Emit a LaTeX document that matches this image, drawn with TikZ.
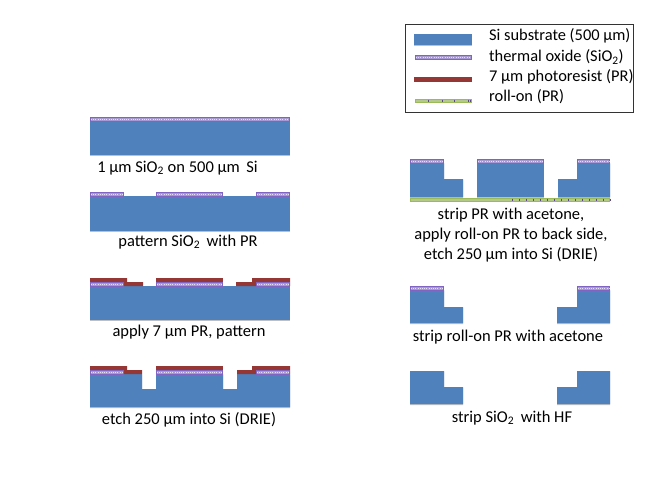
\documentclass[tikz,border=0pt]{standalone}
\usepackage{fontspec}
\setmainfont{Carlito}
\usetikzlibrary{shadows}
\definecolor{sicol}{HTML}{4F81BD}
\definecolor{oxcol}{HTML}{8064C2}
\definecolor{oxfill}{HTML}{A898D4}
\definecolor{prcol}{HTML}{953735}
\definecolor{rollcol}{HTML}{9BBB59}
\definecolor{rollfill}{HTML}{B4C88C}
\tikzset{
  softshadow/.style={drop shadow={shadow xshift=0pt,shadow yshift=-1pt,opacity=.25,fill=black}},
  sishape/.style={fill=sicol,draw=none,softshadow},
  prshape/.style={fill=prcol,draw=none},
  oxshape/.style={fill=oxfill,draw=oxcol,line width=.8pt},
  oxdots/.style={draw=white,opacity=.7,line width=1pt,dash pattern=on 1pt off 1.2pt},
  rollshape/.style={fill=rollfill,draw=rollcol,line width=1pt},
  rolltick/.style={draw=oxcol!70!black,line width=.5pt},
  caption/.style={font=\fontsize{16.5}{20}\selectfont,align=center,inner sep=0pt,text=black},
  legendtext/.style={font=\fontsize{16.4}{20}\selectfont,anchor=west,inner sep=0pt,text=black},
  legendbox/.style={draw=black!80,line width=1pt,fill=none}
}
\newcommand{\oxlayer}[3]{%
  \path[oxshape] (#1+.4,#3+.2) rectangle (#2-.4,#3+4);
  \path[oxdots] (#1+1,#3+2.1) -- (#2-1,#3+2.1);
}
\begin{document}
\begin{tikzpicture}[x=1pt,y=-1pt]
\useasboundingbox (0,0) rectangle (664,498);
\fill[white] (0,0) rectangle (664,498);

% step 1
\path[sishape] (90,121) rectangle (290,155);
\oxlayer{90}{290}{117}
\node[caption] (cap1) at (177.5,168) {1 µm SiO\textsubscript{2} on 500 µm\, Si};

% step 2
\path[sishape] (90,196) rectangle (290,231);
\oxlayer{90}{124}{192}
\oxlayer{156}{223}{192}
\oxlayer{256}{290}{192}
\node[caption] (cap2) at (188,242) {pattern SiO\textsubscript{2}\, with PR};

% step 3
\path[sishape] (90,286) rectangle (290,320);
\path[prshape] (90,278) -- (127,278) -- (127,282) -- (143,282) -- (143,286) -- (90,286) -- cycle;
\path[prshape] (156,278) rectangle (223,283);
\path[prshape] (290,278) -- (252,278) -- (252,282) -- (236,282) -- (236,286) -- (290,286) -- cycle;
\oxlayer{90}{124}{282}
\oxlayer{156}{223}{282}
\oxlayer{256}{290}{282}
\node[caption] (cap3) at (189,332) {apply 7 µm PR, pattern};

% step 4
\path[sishape] (90,374) -- (142,374) -- (142,389) -- (156,389) -- (156,374) -- (223,374) -- (223,389) -- (237,389) -- (237,374) -- (290,374) -- (290,407) -- (90,407) -- cycle;
\path[prshape] (90,366) -- (127,366) -- (127,370) -- (142,370) -- (142,374) -- (90,374) -- cycle;
\path[prshape] (156,366) rectangle (223,371);
\path[prshape] (290,366) -- (252,366) -- (252,370) -- (237,370) -- (237,374) -- (290,374) -- cycle;
\oxlayer{90}{124}{370}
\oxlayer{156}{223}{370}
\oxlayer{256}{290}{370}
\node[caption] (cap4) at (189,420) {etch 250 µm into Si (DRIE)};

% legend
\path[legendbox] (405,24) rectangle (633.5,112);
\path[sishape] (414,34) rectangle (472,45);
\oxlayer{415}{472}{55}
\path[prshape] (414,77) rectangle (472,81.5);
\path[rollshape] (415,99) rectangle (471,102.5);
\foreach \tx in {428,442,454,468,470} {\path[rolltick] (\tx,99.5) -- (\tx,102);}
\node[legendtext] (leg1) at (489,36) {Si substrate (500 µm)};
\node[legendtext] (leg2) at (489,57) {thermal oxide (SiO\textsubscript{2})};
\node[legendtext] (leg3) at (489,76.5) {7 µm photoresist (PR)};
\node[legendtext] (leg4) at (489,96.5) {roll-on (PR)};

% step 5
\path[sishape] (410,163) -- (444,163) -- (444,179) -- (463,179) -- (463,197) -- (410,197) -- cycle;
\path[sishape] (477,163) rectangle (544,197);
\path[sishape] (610,163) -- (577,163) -- (577,179) -- (558,179) -- (558,197) -- (610,197) -- cycle;
\oxlayer{410}{444}{159}
\oxlayer{477}{544}{159}
\oxlayer{577}{610}{159}
\path[rollshape] (410.5,198) rectangle (609.5,201.5);
\foreach \tx in {512,519,...,610} {\path[rolltick] (\tx,198.7) -- (\tx,200.8);}
\node[caption] (cap5) at (511,235) {strip PR with acetone,\\apply roll-on PR to back side,\\etch 250 µm into Si (DRIE)};

% step 6
\path[sishape] (410,290) -- (444,290) -- (444,307) -- (463,307) -- (463,323) -- (410,323) -- cycle;
\path[sishape] (610,290) -- (577,290) -- (577,307) -- (557,307) -- (557,323) -- (610,323) -- cycle;
\oxlayer{410}{444}{286}
\oxlayer{577}{610}{286}
\node[caption] (cap6) at (508,337) {strip roll-on PR with acetone};

% step 7
\path[sishape] (410,371) -- (444,371) -- (444,387) -- (463,387) -- (463,404) -- (410,404) -- cycle;
\path[sishape] (610,371) -- (577,371) -- (577,387) -- (557,387) -- (557,404) -- (610,404) -- cycle;
\node[caption] (cap7) at (512,418) {strip SiO\textsubscript{2}\, with HF};
\end{tikzpicture}
\end{document}
